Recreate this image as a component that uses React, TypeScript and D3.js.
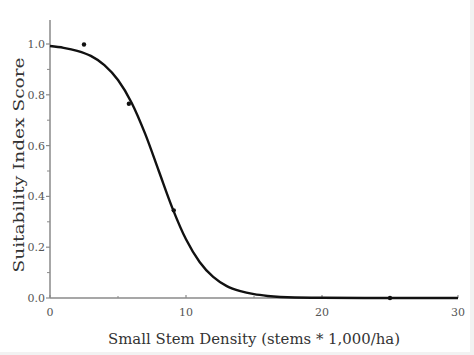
import React from "react";
import * as d3 from "d3";

const curveX = [0, 1, 2, 3, 4, 5, 6, 7, 8, 9, 10, 11, 12, 13, 14, 15, 16, 18, 20, 25, 30];
const curveY = [0.992, 0.985, 0.973, 0.953, 0.917, 0.858, 0.769, 0.646, 0.5, 0.354, 0.231, 0.142, 0.083, 0.047, 0.027, 0.015, 0.008, 0.002, 0.001, 0.0, 0.0];
const pointX = [2.5, 5.8, 9.1, 25];
const pointY = [0.998, 0.765, 0.345, 0.0];
const xTicks = [0, 10, 20, 30];
const xMinor = [5, 15, 25];
const yTicks = [0, 0.2, 0.4, 0.6, 0.8, 1.0];
const yMinor = [0.1, 0.3, 0.5, 0.7, 0.9];

export default function App() {
  const W = 474, H = 355;
  const x = d3.scaleLinear().domain([0, 30]).range([50, 458]);
  const y = d3.scaleLinear().domain([0, 1]).range([298, 44]);
  const line = d3
    .line<number>()
    .x((d, i) => x(curveX[i]))
    .y((d) => y(d))
    .curve(d3.curveMonotoneX);
  const axisColor = "#8a8a8a";
  const font = "'DejaVu Serif', serif";
  return (
    <svg width={W} height={H} style={{ position: "absolute", left: 0, top: 0 }}>
      <rect x={0} y={0} width={W} height={H} fill="#f2f2f2" />
      <rect x={0} y={0} width={470} height={352} fill="#ffffff" />
      {/* y axis */}
      <line x1={50} x2={50} y1={20} y2={298} stroke={axisColor} strokeWidth={1.5} />
      {yTicks.map((t) => (
        <g key={"yt" + t}>
          <line x1={46} x2={50} y1={y(t)} y2={y(t)} stroke={axisColor} strokeWidth={1.2} />
          <text x={45} y={y(t) + 4} textAnchor="end" fontFamily={font} fontSize={11} fill="#555">
            {t.toFixed(1)}
          </text>
        </g>
      ))}
      {yMinor.map((t) => (
        <line key={"ym" + t} x1={47} x2={50} y1={y(t)} y2={y(t)} stroke={axisColor} strokeWidth={1} />
      ))}
      {/* x axis */}
      <line x1={50} x2={458} y1={298} y2={298} stroke={axisColor} strokeWidth={1.5} />
      {xTicks.map((t) => (
        <g key={"xt" + t}>
          <line x1={x(t)} x2={x(t)} y1={295} y2={298} stroke={axisColor} strokeWidth={1.2} />
          <text x={x(t)} y={316} textAnchor="middle" fontFamily={font} fontSize={11} fill="#555">
            {t}
          </text>
        </g>
      ))}
      {xMinor.map((t) => (
        <line key={"xm" + t} x1={x(t)} x2={x(t)} y1={296} y2={298} stroke={axisColor} strokeWidth={1} />
      ))}
      {/* curve */}
      <path d={line(curveY) || ""} fill="none" stroke="#111" strokeWidth={2.4} />
      {pointX.map((px, i) => (
        <circle key={"p" + i} cx={x(px)} cy={y(pointY[i])} r={2.2} fill="#111" />
      ))}
      {/* titles */}
      <text x={254} y={344} textAnchor="middle" fontFamily={font} fontSize={15.5} fill="#333" textLength={292} lengthAdjust="spacingAndGlyphs">
        Small Stem Density (stems * 1,000/ha)
      </text>
      <text
        transform="translate(24,165) rotate(-90)"
        textAnchor="middle"
        fontFamily={font}
        fontSize={15.5}
        fill="#333"
        textLength={215}
        lengthAdjust="spacingAndGlyphs"
      >
        Suitability Index Score
      </text>
    </svg>
  );
}
